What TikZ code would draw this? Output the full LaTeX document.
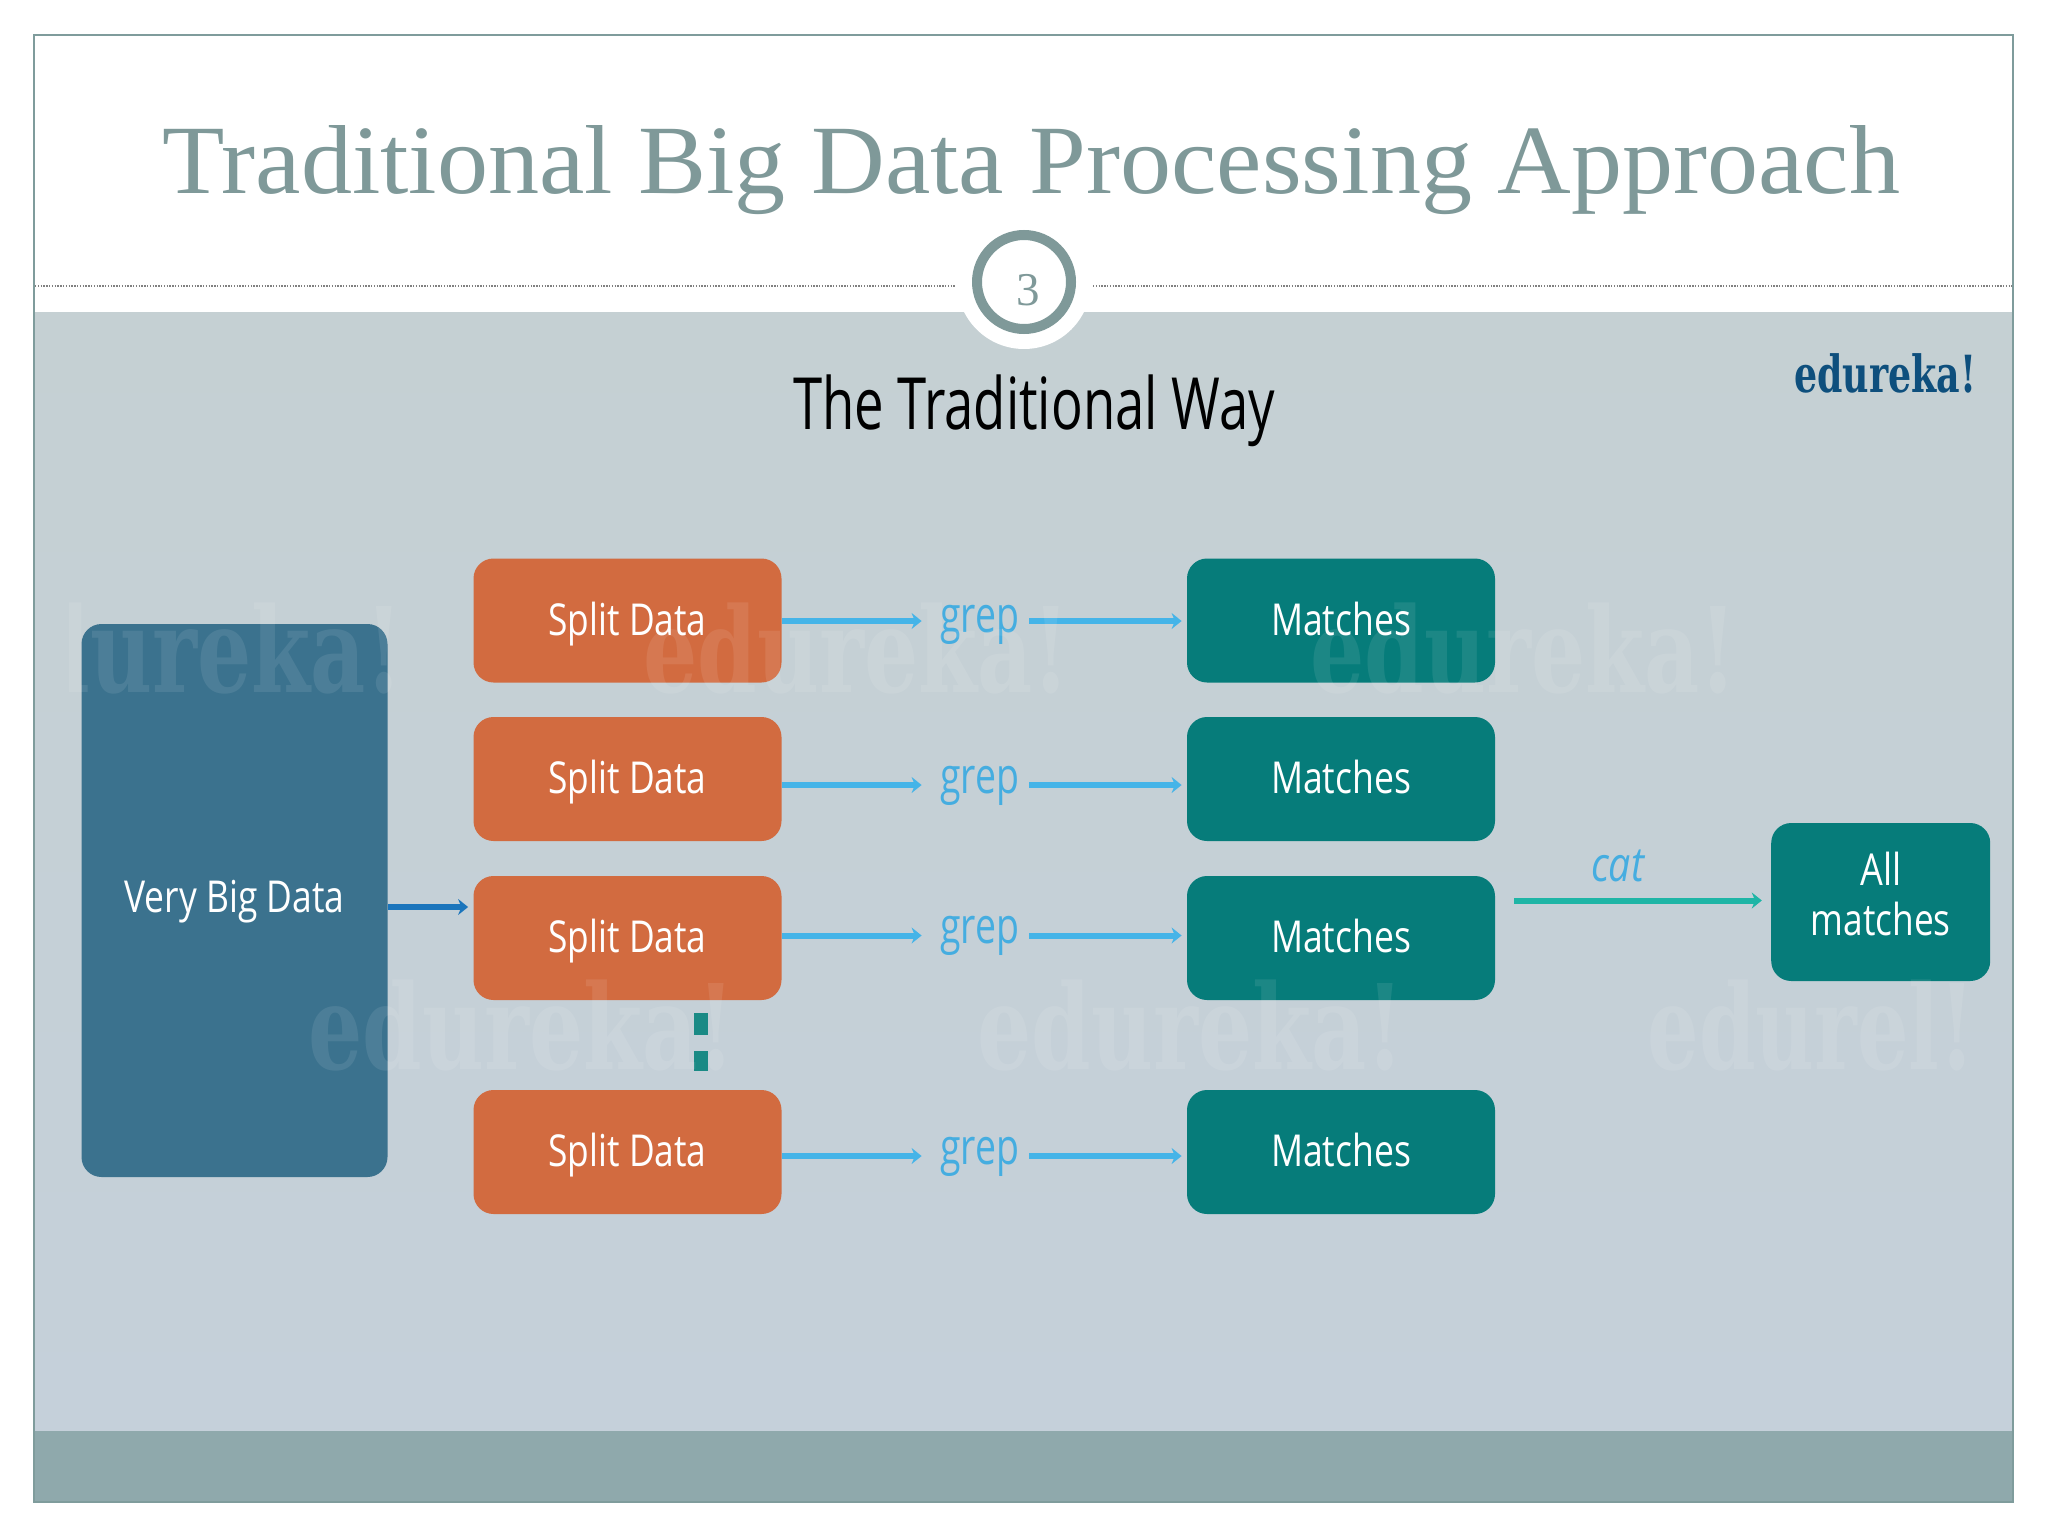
\documentclass[tikz,border=0pt]{standalone}
\usepackage{fontspec}
\usepackage{graphicx}
\usetikzlibrary{arrows.meta}
\setmainfont{Open Sans}
\newfontfamily\titlefont{Liberation Serif}
\newfontfamily\slabfont{DejaVu Serif}
\newcommand{\fit}[2]{\resizebox{#1}{\height}{#2}}
\definecolor{framec}{HTML}{7F9C9C}
\definecolor{titlec}{HTML}{7F9999}
\definecolor{footc}{HTML}{8FA9AC}
\definecolor{bgtop}{HTML}{C5D0D3}
\definecolor{bgbot}{HTML}{C5D0DA}
\definecolor{bluebox}{HTML}{3B728E}
\definecolor{orangebox}{HTML}{D26B40}
\definecolor{tealbox}{HTML}{067C7A}
\definecolor{greparrow}{HTML}{45B4E8}
\definecolor{greptext}{HTML}{45ADE0}
\definecolor{catarrow}{HTML}{1FB5A6}
\definecolor{splitarrow}{HTML}{1B75BC}
\definecolor{logoc}{HTML}{0E4F7D}
\definecolor{dotsc}{HTML}{1A8A85}
\tikzset{
  x=0.5pt,y=-0.5pt,
  boxbase/.style={rectangle,rounded corners=10pt,inner sep=0pt,text=white,font=\fontsize{22}{25}\selectfont,anchor=center},
  rowbox/.style={boxbase,minimum width=154pt,minimum height=62pt,text height=15pt,text depth=0.5pt},
  splitbox/.style={rowbox,fill=orangebox},
  matchbox/.style={rowbox,fill=tealbox},
  grepnode/.style={inner sep=0pt,anchor=base,text=greptext,font=\fontsize{25}{28}\selectfont},
  arrowtip/.style={-{Stealth[length=5pt,width=8pt]}},
  flow/.style={draw=greparrow,line width=3pt,arrowtip},
  wm/.style={inner sep=0pt,anchor=base west,text=white,text opacity=0.09,font=\slabfont\bfseries\fontsize{59}{60}\selectfont},
}
\begin{document}
\begin{tikzpicture}
\useasboundingbox (0,0) rectangle (2048,1536);
\fill[white] (0,0) rectangle (2048,1536);
% background bands
\shade[top color=bgtop,bottom color=bgbot] (34,312) rectangle (2013,1431);
\fill[footc] (34,1431) rectangle (2013,1502);
\draw[framec,line width=1pt] (34,35) rectangle (2013,1502);
% rule
\coordinate (ruleL) at (35,286);
\coordinate (ruleLend) at (955,286);
\coordinate (ruleRstart) at (1093,286);
\coordinate (ruleR) at (2012,286);
\draw[gray,line width=0.6pt,dash pattern=on 0.7pt off 0.7pt] (ruleL) -- (ruleLend);
\draw[gray,line width=0.6pt,dash pattern=on 0.7pt off 0.7pt] (ruleRstart) -- (ruleR);
% page number
\node[circle,fill=white,minimum size=67pt,inner sep=0pt] (halo) at (1024,282) {};
\node[circle,draw=titlec,fill=white,line width=5pt,minimum size=47pt,inner sep=0pt] (ring) at (1024,282) {};
\node[inner sep=0pt,anchor=base,text=titlec,font=\titlefont\fontsize{23.5}{24}\selectfont] (num) at (1028,305) {3};
% titles
\node[inner sep=0pt,anchor=base,text=titlec,font=\titlefont\fontsize{49}{50}\selectfont] (title) at (1031.5,193) {\fit{868.5pt}{Traditional Big Data Processing Approach}};
\node[inner sep=0pt,anchor=base,text=black,font=\fontsize{36}{38}\selectfont] (sub) at (1034,429) {\fit{241pt}{The Traditional Way}};
\node[inner sep=0pt,anchor=base,text=logoc,font=\slabfont\bfseries\fontsize{25.6}{27}\selectfont] (logo) at (1885,392.5) {\fit{91pt}{edureka!}};
% boxes
\node[boxbase,fill=bluebox,minimum width=153pt,minimum height=276.5pt,text height=12pt,text depth=0.5pt] (big) at (234.5,900.5) {\fit{110pt}{Very Big Data}};
\node[splitbox] (s1) at (627.5,620.5) {\fit{79pt}{Split Data}};
\node[splitbox] (s2) at (627.5,779) {\fit{79pt}{Split Data}};
\node[splitbox] (s3) at (627.5,938) {\fit{79pt}{Split Data}};
\node[splitbox] (s4) at (627.5,1152) {\fit{79pt}{Split Data}};
\node[matchbox] (m1) at (1341,620.5) {\fit{70pt}{Matches}};
\node[matchbox] (m2) at (1341,779) {\fit{70pt}{Matches}};
\node[matchbox] (m3) at (1341,938) {\fit{70pt}{Matches}};
\node[matchbox] (m4) at (1341,1152) {\fit{70pt}{Matches}};
\node[boxbase,fill=tealbox,minimum width=109.5pt,minimum height=79pt,align=center] (all) at (1880.7,902) {\fit{20.5pt}{All}\\\fit{70pt}{matches}\rule[-8pt]{0pt}{0pt}};
% continuation dots
\node[fill=dotsc,inner sep=0pt,minimum width=7pt,minimum height=11pt] (dot1) at (701,1024) {};
\node[fill=dotsc,inner sep=0pt,minimum width=7pt,minimum height=10pt] (dot2) at (701,1061) {};
% rows
\coordinate (r1) at (0,621);
\coordinate (r2) at (0,785);
\coordinate (r3) at (0,935.5);
\coordinate (r4) at (0,1156);
\coordinate (r5) at (0,907);
\coordinate (r6) at (0,900.5);
\node[grepnode] (g1) at (979.5,632.5) {\fit{39.5pt}{grep}};
\node[grepnode] (g2) at (979.5,793) {\fit{39.5pt}{grep}};
\node[grepnode] (g3) at (979.5,943) {\fit{39.5pt}{grep}};
\node[grepnode] (g4) at (979.5,1164) {\fit{39.5pt}{grep}};
\node[inner sep=0pt,anchor=base,text=greptext,font=\itshape\fontsize{24}{26}\selectfont] (cat) at (1617.5,881) {\fit{26.5pt}{cat}};
% connectors
\foreach \i in {1,2,3,4}{
  \draw[flow,shorten >=9pt] (s\i.east |- r\i) -- (g\i.west |- r\i);
  \draw[flow,shorten <=5pt,shorten >=2.5pt] (g\i.east |- r\i) -- (m\i.west |- r\i);
}
\draw[draw=splitarrow,line width=3pt,arrowtip,shorten >=2.5pt] (big.east |- r5) -- (s3.west |- r5);
\draw[draw=catarrow,line width=3pt,arrowtip,shorten <=9.5pt,shorten >=4.5pt] (m3.east |- r6) -- (all.west |- r6);
% watermarks
\begin{scope}
\clip (69,500) rectangle (2013,1200);
\node[wm] (w1) at (-24,692) {\fit{213.5pt}{edureka!}};
\node[wm] (w2) at (643,692) {\fit{213.5pt}{edureka!}};
\node[wm] (w3) at (1310,692) {\fit{213.5pt}{edureka!}};
\node[wm] (w4) at (308,1069) {\fit{213.5pt}{edureka!}};
\node[wm] (w5) at (977,1069) {\fit{213.5pt}{edureka!}};
\node[wm] (w6) at (1647,1069) {\fit{164pt}{edurel!}};
\end{scope}
\end{tikzpicture}
\end{document}
